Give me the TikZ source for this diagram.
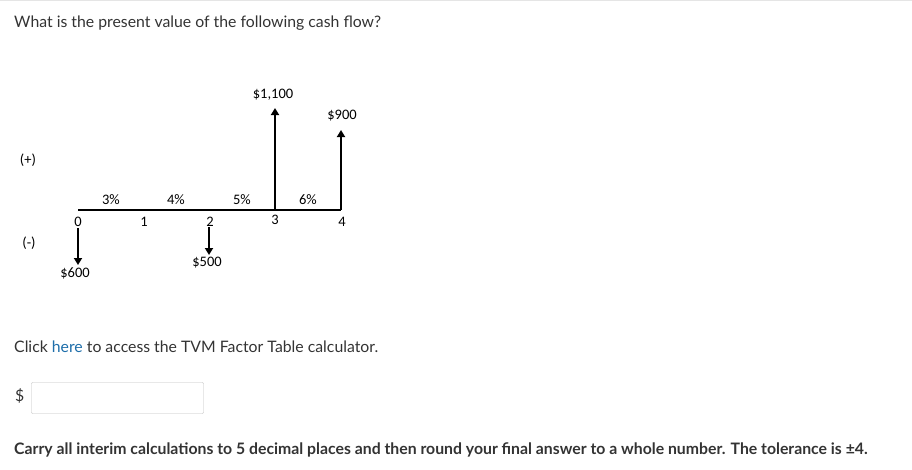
\documentclass[tikz,border=0pt]{standalone}
\usepackage{fontspec}
\setmainfont{Lato}
\newfontfamily\cashfont{Carlito}
\usetikzlibrary{arrows.meta}
\definecolor{linkblue}{RGB}{30,110,170}
\definecolor{bodygray}{RGB}{51,51,51}

\begin{document}
\begin{tikzpicture} [x = 1pt, y = -1pt,
  txt/.style = {anchor = base west, inner sep = 0pt, text = bodygray, font = \fontsize{15.8}{19}\selectfont},
  lbl/.style = {inner sep = 0pt, font = \cashfont\fontsize{14.5}{17}\selectfont},
  flow/.style = {line width = 2.6pt, -{Triangle[width = 8pt, length = 7pt]}}]
\useasboundingbox (0, 0) rectangle (912, 469);
\draw[black!10] (0, 0.5) -- (912, 0.5);
\node[txt] (question) at (14, 27){What is the present value of the following cash flow?};
% time line
\coordinate (t0) at (78, 210);
\coordinate (t1) at (144, 210);
\coordinate (t2) at (209, 210);
\coordinate (t3) at (275, 210);
\coordinate (t4) at (341, 210);
\draw[line width = 2.6pt] (t0) -- (t4);
\node[lbl] (n0) at (78, 222){0};
\node[lbl] (n1) at (144, 222){1};
\node[lbl] (n2) at (210, 222){2};
\node[lbl] (n3) at (275, 220){3};
\node[lbl] (n4) at (342, 222){4};
\node[lbl] (r1) at (111, 200){3\%};
\node[lbl] (r2) at (176, 200){4\%};
\node[lbl] (r3) at (242, 200){5\%};
\node[lbl] (r4) at (308, 200){6\%};
\node[lbl] (plus) at (28, 160){(+)};
\node[lbl] (minus) at (29, 243){(-)};
% cash flows
\coordinate (c0) at (78, 228);
\coordinate (c2) at (209, 227);
\draw[flow] (t3) -- (275, 108);
\draw[flow] (t4) -- (341, 130);
\draw[flow] (c0) -- (78, 265);
\draw[flow] (c2) -- (209, 255);
\node[lbl] (f3) at (273, 95){\$1,100};
\node[lbl] (f4) at (342, 116){\$900};
\node[lbl] (f0) at (75, 273){\$600};
\node[lbl] (f2) at (207, 263){\$500};
% answer
\node[txt] (click) at (14, 352){Click \textcolor{linkblue}{here} to access the TVM Factor Table calculator.};
\node[txt] (dollar) at (15, 401){\$};
\draw[black!25, rounded corners = 1pt] (31.5, 382.5) rectangle (203.5, 413.5);
\node[txt, font = \bfseries\fontsize{15.8}{19}\selectfont] (note) at (14, 454){Carry all interim calculations to 5 decimal places and then round your final answer to a whole number. The tolerance is ±4.};
\end{tikzpicture}
\end{document}
